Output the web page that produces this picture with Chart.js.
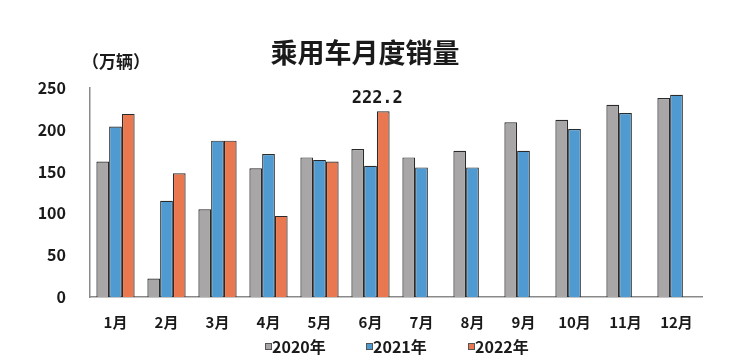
<!DOCTYPE html>
<html>
<head>
<meta charset="utf-8">
<script src="https://cdn.jsdelivr.net/npm/chart.js@4.4.0/dist/chart.umd.min.js"></script>
<style>
  html, body { margin: 0; padding: 0; background: #ffffff; }
  #wrap { width: 743px; height: 364px; position: relative; }
</style>
</head>
<body>
<div id="wrap"><canvas id="c" width="743" height="364"></canvas></div>
<script>
const categories = ['1月','2月','3月','4月','5月','6月','7月','8月','9月','10月','11月','12月'];
const seriesNames = ['2020年','2021年','2022年'];
const sales2020 = [162, 22, 105, 154, 167, 177, 167, 175, 209, 212, 230, 238];
const sales2021 = [204, 115, 187, 171, 164, 157, 155, 155, 175, 201, 220, 242];
const sales2022 = [219, 148, 187, 97, 162, 222.2, null, null, null, null, null, null];
const yTicks = [0, 50, 100, 150, 200, 250];
const chartTitle = '乘用车月度销量';
const unitLabel = '（万辆）';
const highlight = { series: 2, index: 5, text: '222.2' };

const colors = ['#A8A6A7', '#4F9BD1', '#E97850'];
const FONT = '"Noto Sans CJK SC", "Noto Sans", sans-serif';

const textPlugin = {
  id: 'texts',
  afterDraw(chart) {
    const ctx = chart.ctx;
    ctx.save();
    ctx.fillStyle = '#1a1a1a';
    ctx.textBaseline = 'middle';
    ctx.textAlign = 'center';
    ctx.font = 'bold 27px ' + FONT;
    ctx.fillText(chartTitle, 365, 53);
    ctx.textAlign = 'left';
    ctx.font = 'bold 17px ' + FONT;
    ctx.fillText(unitLabel, 82, 62);
    const bar = chart.getDatasetMeta(highlight.series).data[highlight.index];
    ctx.textAlign = 'center';
    ctx.font = 'bold 17px "DejaVu Sans Mono", monospace';
    ctx.fillText(highlight.text, bar.x - 6, bar.y - 13);

    // legend
    const lx = [265, 366, 468];
    ctx.font = 'bold 16px ' + FONT;
    ctx.textAlign = 'left';
    seriesNames.forEach((name, i) => {
      ctx.fillStyle = colors[i];
      ctx.fillRect(lx[i], 344, 6, 6);
      ctx.strokeStyle = '#555555';
      ctx.lineWidth = 1;
      ctx.strokeRect(lx[i] + 0.5, 343.5, 6, 6);
      ctx.fillStyle = '#1a1a1a';
      ctx.fillText(name, lx[i] + 7, 347);
    });
    ctx.restore();
  }
};

new Chart(document.getElementById('c'), {
  type: 'bar',
  data: {
    labels: categories,
    datasets: [sales2020, sales2021, sales2022].map((d, i) => ({
      label: seriesNames[i],
      data: d,
      backgroundColor: colors[i],
      borderColor: '#2a2a2a',
      borderWidth: 1.2,
      borderSkipped: 'bottom',
      categoryPercentage: 0.75,
      barPercentage: 1.0
    }))
  },
  options: {
    responsive: false,
    animation: false,
    layout: { padding: { top: 88, right: 41, bottom: 0, left: 0 } },
    plugins: {
      title: { display: false },
      tooltip: { enabled: false },
      legend: { display: false }
    },
    scales: {
      x: {
        afterFit(scale) { scale.height = 67; },
        grid: { display: false, drawTicks: false },
        border: { display: true, color: '#8a8a8a', width: 1.5 },
        ticks: {
          color: '#1a1a1a',
          padding: 16,
          font: { family: FONT, size: 15, weight: 'bold' }
        }
      },
      y: {
        min: 0,
        max: 250,
        afterBuildTicks(scale) { scale.ticks = yTicks.map(v => ({ value: v })); },
        afterFit(scale) { scale.width = 90; },
        grid: { display: false, drawTicks: false },
        border: { display: true, color: '#8a8a8a', width: 1.5 },
        ticks: {
          color: '#1a1a1a',
          padding: 24,
          font: { family: FONT, size: 16, weight: 'bold' }
        }
      }
    }
  },
  plugins: [textPlugin]
});
</script>
</body>
</html>
